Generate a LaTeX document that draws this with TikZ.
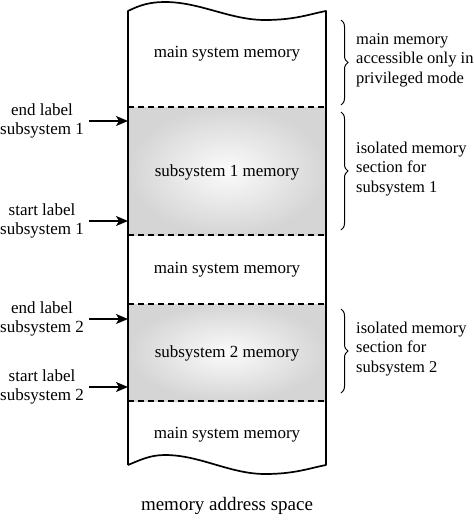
\documentclass[tikz,border=0pt]{standalone}
\usepackage{fontspec}
\setmainfont{Liberation Serif}
\usetikzlibrary{arrows.meta,decorations.pathreplacing}
\tikzset{>={Stealth[length=12pt,width=10pt,inset=3pt]}}
\tikzset{
    seg/.style={font=\fontsize{17}{19.5}\selectfont},
    side/.style={font=\fontsize{16.5}{19.5}\selectfont, align=left, anchor=west, inner sep=0pt},
    tag/.style={font=\fontsize{17}{19.5}\selectfont, align=center, inner sep=5pt},
    brc/.style={decorate, decoration={brace, amplitude=7pt}, line width=1pt},
    cut/.style={dash pattern=on 6pt off 4pt, line width=1.3pt}
}

\begin{document}
\begin{tikzpicture}[x=1pt,y=-1pt]
    \useasboundingbox (0,0) rectangle (474,520);
    \coordinate (tl) at (128,11);
    \coordinate (tr) at (326,11);
    \coordinate (bl) at (128,465);
    \coordinate (br) at (326,465);

    % shaded sections
    \foreach \a/\b in {107/235, 304/401}
        \shade[inner color=gray!3, outer color=gray!33] (128,\a) rectangle (326,\b);
    \foreach \y in {107, 235, 304, 401}
        \draw[cut] (128,\y) -- (326,\y);

    % the memory column
    \draw[line width=1.7pt, line join=round] (bl) -- (tl)
        .. controls (140,5) and (150,2) .. (165,2)
        .. controls (200,2) and (230,20) .. (265,20)
        .. controls (295,20) and (310,14) .. (tr) -- (br)
        .. controls (310,468) and (295,474) .. (265,474)
        .. controls (230,474) and (200,455) .. (165,455)
        .. controls (150,455) and (140,460) .. (bl);

    \node[seg] (m1) at (227,54) {main system memory};
    \node[seg] (s1) at (227,172) {subsystem 1 memory};
    \node[seg] (m2) at (227,270) {main system memory};
    \node[seg] (s2) at (227,353) {subsystem 2 memory};
    \node[seg] (m3) at (227,435) {main system memory};

    % labels on the left
    \foreach \n/\y/\w/\k in {e1/121/end/1, b1/221/start/1, e2/319/end/2, b2/387/start/2} {
        \coordinate (p\n) at (128,\y);
        \node[tag] (l\n) at (42,\y) {\w\ label\\subsystem \k};
        \draw[->, line width=1.3pt] (l\n) -- (p\n);
    }

    % braces on the right
    \draw[brc] (341,20) -- (341,105);
    \draw[brc] (341,112) -- (341,230);
    \draw[brc] (341,309) -- (341,393);
    \node[side] (t1) at (356,60) {main memory\\accessible only in\\privileged mode};
    \node[side] (t2) at (356,169) {isolated memory\\section for\\subsystem 1};
    \node[side] (t3) at (356,349) {isolated memory\\section for\\subsystem 2};

    \node[font=\fontsize{19}{22}\selectfont] (cap) at (227,506) {memory address space};
\end{tikzpicture}
\end{document}
